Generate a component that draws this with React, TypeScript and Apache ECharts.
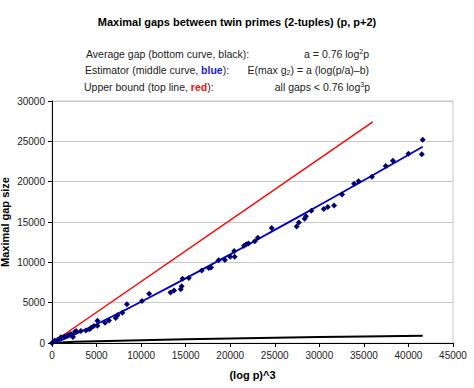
import React, { useEffect, useRef } from "react";
import * as echarts from "echarts";

const xTicks = [0, 5000, 10000, 15000, 20000, 25000, 30000, 35000, 40000, 45000];
const yTicks = [0, 5000, 10000, 15000, 20000, 25000, 30000];

// observed maximal gaps: [ (log p)^3 , gap ]
const gapPoints: number[][] = [
  [0, 0], [300, 300], [640, 410], [1000, 700], [1380, 820], [1800, 1000], [2120, 1120],
  [2350, 750], [2570, 1370], [2700, 1500], [3240, 1480], [3800, 1560], [4200, 1700],
  [4400, 1900], [4700, 2100], [5100, 2150], [5100, 2750], [5950, 2500], [6400, 2800],
  [7150, 3100], [7350, 3450], [7900, 3750], [8400, 4800], [10100, 5200], [10900, 6100],
  [13300, 6250], [13700, 6500], [14450, 6650], [14550, 7050], [14650, 7950], [15350, 8050],
  [16800, 9000], [17600, 9300], [17850, 9350], [18700, 10250], [19400, 10300], [20000, 10700],
  [20500, 10700], [20450, 11400], [21550, 12050], [21800, 12250], [22050, 12350], [22750, 12600],
  [23100, 13050], [24650, 14250], [27450, 14450], [27700, 14950], [28350, 15400], [28500, 15700],
  [29100, 16400], [30500, 16600], [30950, 16850], [31650, 17050], [32550, 18400], [33900, 19750],
  [34400, 20050], [35900, 20600], [37450, 21950], [38250, 22600], [40000, 23450], [41500, 23400],
  [41600, 25200],
];

// estimator (middle curve, blue)
const estimatorX = [0, 500, 1000, 2500, 5000, 7500, 10000, 15000, 20000, 25000, 30000, 35000, 41600];
const estimatorY = [0, 140, 340, 1040, 2330, 3700, 5110, 8010, 10990, 14020, 17080, 20180, 24330];

// upper bound (top line, red)
const boundX = [0, 36000];
const boundY = [0, 27400];

// average gap (bottom curve, black)
const averageX = [0, 1000, 2500, 5000, 10000, 15000, 20000, 25000, 30000, 35000, 41600];
const averageY = [0, 76, 140, 222, 353, 462, 560, 650, 734, 813, 913];

const font = "'Liberation Sans', Arial, sans-serif";
const bodySize = 10.5;

export default function App() {
  const ref = useRef<HTMLDivElement>(null);
  useEffect(() => {
    if (!ref.current) return;
    const chart = echarts.init(ref.current, null, { renderer: "svg" });
    const zip = (xs: number[], ys: number[]) => xs.map((x, i) => [x, ys[i]]);
    const base = { fontSize: bodySize, fontFamily: font, fill: "#222" };
    chart.setOption({
      animation: false,
      backgroundColor: "#ffffff",
      textStyle: { fontFamily: font },
      grid: {
        left: 52, right: 21, top: 101, bottom: 45,
        containLabel: false, outerBoundsMode: "none",
        show: true, borderColor: "#c8c8c8", borderWidth: 1,
      },
      graphic: [
        {
          type: "text", left: "center", top: 16,
          style: {
            text: "Maximal gaps between twin primes (2-tuples) (p, p+2)",
            font: `bold 11px ${font}`, fill: "#000",
          },
        },
        {
          type: "text", x: 86, y: 54,
          style: { text: "Average gap (bottom curve, black):", ...base, verticalAlign: "middle" },
        },
        {
          type: "text", x: 85, y: 70,
          style: {
            text: "Estimator (middle curve, {b|blue}):",
            ...base, verticalAlign: "middle",
            rich: { b: { fontWeight: "bold", fill: "#1c1cd0", fontSize: bodySize, fontFamily: font } },
          },
        },
        {
          type: "text", x: 84, y: 87,
          style: {
            text: "Upper bound (top line, {r|red}):",
            ...base, verticalAlign: "middle",
            rich: { r: { fontWeight: "bold", fill: "#ee1111", fontSize: bodySize, fontFamily: font } },
          },
        },
        {
          type: "text", x: 369, y: 54,
          style: {
            text: "a = 0.76 log{s|2}p", ...base, align: "right", verticalAlign: "middle",
            rich: { s: { fontSize: 7, fontFamily: font, fill: "#222", verticalAlign: "top", padding: [0, 0, 5, 0] } },
          },
        },
        {
          type: "text", x: 369, y: 70,
          style: {
            text: "E(max g{s|2}) = a (log(p/a)–b)", ...base, align: "right", verticalAlign: "middle",
            rich: { s: { fontSize: 7, fontFamily: font, fill: "#222", padding: [4, 0, 0, 0] } },
          },
        },
        {
          type: "text", x: 370, y: 87,
          style: {
            text: "all gaps < 0.76 log{s|3}p", ...base, align: "right", verticalAlign: "middle",
            rich: { s: { fontSize: 7, fontFamily: font, fill: "#222", verticalAlign: "top", padding: [0, 0, 5, 0] } },
          },
        },
      ],
      xAxis: {
        type: "value", min: 0, max: 45000, interval: 5000,
        name: "(log p)^3", nameLocation: "middle", nameGap: 26, nameMoveOverlap: false,
        nameTextStyle: { fontWeight: "bold", fontSize: 11, color: "#000", fontFamily: font },
        axisLine: { lineStyle: { color: "#000", width: 1 } },
        axisTick: { show: true, length: 4, lineStyle: { color: "#000" } },
        axisLabel: {
          fontSize: 10, color: "#222", margin: 7, fontFamily: font,
          formatter: (v: number) => (xTicks.includes(v) ? String(v) : ""),
        },
        splitLine: { show: false },
      },
      yAxis: {
        type: "value", min: 0, max: 30000, interval: 5000,
        name: "Maximal gap size", nameLocation: "middle", nameGap: 42, nameRotate: 90, nameMoveOverlap: false,
        nameTextStyle: { fontWeight: "bold", fontSize: 11, color: "#000", fontFamily: font },
        axisLine: { show: true, lineStyle: { color: "#000", width: 1 } },
        axisTick: { show: true, length: 4, lineStyle: { color: "#000" } },
        axisLabel: {
          fontSize: 10, color: "#222", margin: 7, fontFamily: font,
          formatter: (v: number) => (yTicks.includes(v) ? String(v) : ""),
        },
        splitLine: { show: true, lineStyle: { color: "#c8c8c8", width: 1 } },
      },
      series: [
        {
          type: "line", data: zip(averageX, averageY), showSymbol: false,
          lineStyle: { color: "#000", width: 2 }, z: 3,
        },
        {
          type: "line", data: zip(boundX, boundY), showSymbol: false,
          lineStyle: { color: "#ff0000", width: 1.5 }, z: 3,
        },
        {
          type: "line", data: zip(estimatorX, estimatorY), showSymbol: false, smooth: true,
          lineStyle: { color: "#0000cc", width: 1.8 }, z: 4,
        },
        {
          type: "scatter", data: gapPoints, symbol: "diamond", symbolSize: 6,
          itemStyle: { color: "#000070", opacity: 1 }, z: 5,
        },
      ],
    });
    return () => chart.dispose();
  }, []);
  return <div ref={ref} style={{ width: 474, height: 388, position: "absolute", left: 0, top: 0 }} />;
}
